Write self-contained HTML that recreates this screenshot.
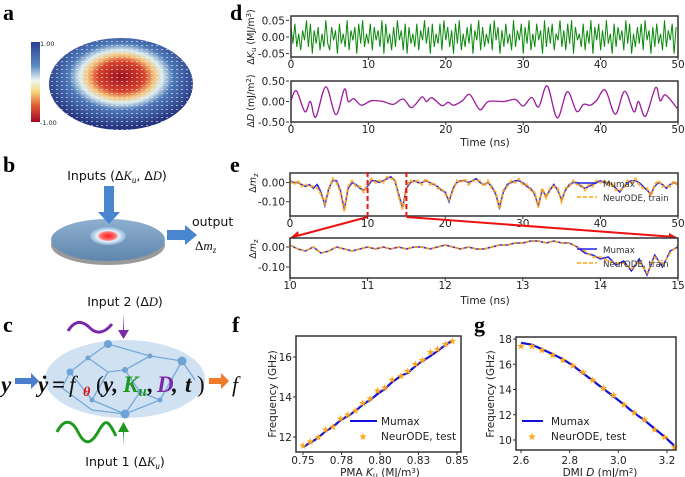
<!DOCTYPE html>
<html><head><meta charset="utf-8"><style>
html,body{margin:0;padding:0;background:#fff;}
svg{display:block;font-family:"DejaVu Sans","Liberation Sans",sans-serif;}
.tick{font-size:10.5px;fill:#222;}
.lab{font-size:9.5px;fill:#222;}
.pl{font-family:"Liberation Serif",serif;font-weight:bold;font-size:22px;fill:#000;}
.leg{font-size:8.7px;fill:#333;}
</style></head><body>
<svg id="fig" width="685" height="477" viewBox="0 0 685 477" xmlns="http://www.w3.org/2000/svg">
<defs>
<linearGradient id="cbar" x1="0" y1="0" x2="0" y2="1">
<stop offset="0" stop-color="#2c3f94"/><stop offset="0.3" stop-color="#5b8cc4"/><stop offset="0.48" stop-color="#eef6f4"/><stop offset="0.62" stop-color="#f7d77c"/><stop offset="0.8" stop-color="#e05a2f"/><stop offset="1" stop-color="#a4062a"/></linearGradient>
<radialGradient id="skyr" cx="0.5" cy="0.42" r="0.55">
<stop offset="0" stop-color="#9a0f20"/><stop offset="0.3" stop-color="#d8442c"/><stop offset="0.42" stop-color="#f4c27a"/><stop offset="0.52" stop-color="#dbeef0"/><stop offset="0.66" stop-color="#4f79b8"/><stop offset="1" stop-color="#26357f"/></radialGradient>
<pattern id="dots" width="5" height="4" patternUnits="userSpaceOnUse"><rect width="5" height="4" fill="none"/><rect x="1" y="1" width="2" height="1" fill="#fff" opacity="0.55"/></pattern>
<radialGradient id="core" cx="0.5" cy="0.5" r="0.5"><stop offset="0" stop-color="#ff1a1a"/><stop offset="0.45" stop-color="#f77"/><stop offset="0.6" stop-color="#e8f2fa"/><stop offset="0.85" stop-color="#a9cbe8"/><stop offset="1" stop-color="#8fb2d4"/></radialGradient>
<linearGradient id="disk" x1="0" y1="0" x2="0" y2="1"><stop offset="0" stop-color="#8fb0cf"/><stop offset="1" stop-color="#5f86ad"/></linearGradient>
</defs>

<!-- panel a -->
<text class="pl" x="3" y="20">a</text>
<rect x="31" y="42" width="9" height="80" fill="url(#cbar)"/>
<text x="40" y="46" font-size="6.5" fill="#222">1.00</text>
<text x="40" y="125" font-size="6.5" fill="#222">-1.00</text>
<ellipse cx="121" cy="84" rx="72" ry="46" fill="url(#skyr)"/>
<ellipse cx="121" cy="84" rx="72" ry="46" fill="url(#dots)"/>

<!-- panel b -->
<text class="pl" x="3" y="172">b</text>
<text x="117" y="180" font-size="12.5" text-anchor="middle" fill="#111">Inputs (Δ<tspan font-style="italic" font-family="Liberation Serif">K<tspan font-size="9" dy="3">u</tspan></tspan><tspan dy="-3">, Δ</tspan><tspan font-style="italic" font-family="Liberation Serif">D</tspan>)</text>
<ellipse cx="108" cy="245" rx="57" ry="20" fill="#9a9a9a"/>
<ellipse cx="108" cy="240" rx="57" ry="21" fill="url(#disk)"/>
<ellipse cx="108" cy="236" rx="18" ry="9" fill="url(#core)"/>
<path d="M104,186 h10 v26 h6 l-11,12 l-11,-12 h6 z" fill="#4a86cf"/>
<path d="M167,230 h18 v-5 l12,10 l-12,10 v-5 h-18 z" fill="#4a86cf"/>
<text x="192" y="226" font-size="12.5" fill="#111">output</text>
<text x="195" y="250" font-size="13" font-family="Liberation Serif" font-style="italic" fill="#111"><tspan font-style="normal">Δ</tspan>m<tspan font-size="9" dy="3">z</tspan></text>

<!-- panel c -->
<text class="pl" x="3" y="332">c</text>
<text x="125" y="306" font-size="12.5" text-anchor="middle" fill="#111">Input 2 (Δ<tspan font-style="italic" font-family="Liberation Serif">D</tspan>)</text>
<path d="M68,331 C76,318 84,322 90,328 S104,334 112,324" fill="none" stroke="#7a2aa8" stroke-width="3"/>
<path d="M123,312 v18 h-5 l5.5,9 l5.5,-9 h-5 z" fill="#7a2aa8"/>
<ellipse cx="125" cy="379" rx="80" ry="39" fill="#c8dcf0" opacity="0.85"/>
<g stroke="#6ea3d6" stroke-width="1.3" fill="none" opacity="0.9">
<path d="M108,344 L88,358 L70,372 L62,388 M108,344 L150,356 L182,361 L195,380 M88,358 L108,372 L125,370 L150,356 M108,372 L92,400 L125,414 L160,400 L182,361 M125,370 L140,392 L160,400 M70,372 L92,400 M140,392 L125,414 M62,388 L92,410 L125,414"/>
</g>
<g fill="#6ea3d6">
<circle cx="108" cy="344" r="4"/><circle cx="182" cy="361" r="4.5"/><circle cx="70" cy="372" r="3.5"/><circle cx="125" cy="414" r="4.5"/><circle cx="125" cy="370" r="3"/><circle cx="88" cy="358" r="2.5"/><circle cx="150" cy="356" r="2.5"/><circle cx="160" cy="400" r="2.5"/><circle cx="92" cy="400" r="2.5"/><circle cx="140" cy="392" r="2.5"/>
</g>
<text y="392" font-family="Liberation Serif" font-weight="bold" font-style="italic" font-size="23" fill="#111"><tspan x="1">y</tspan><tspan x="38">ẏ</tspan><tspan x="52" font-style="normal">=</tspan><tspan x="69" font-weight="normal">f</tspan><tspan x="83" font-size="14" dy="4" fill="#e01010">θ</tspan><tspan x="96" dy="-4" font-style="normal" font-weight="normal">(</tspan><tspan x="103">y,</tspan><tspan x="123" fill="#1e9a1e">K<tspan font-size="15" dy="4">u</tspan></tspan><tspan dy="-4" font-style="normal">,</tspan><tspan x="157" fill="#7a2aa8">D</tspan><tspan x="172">,</tspan><tspan x="185">t</tspan><tspan x="197" font-style="normal" font-weight="normal">)</tspan></text>
<path d="M15,378 h16 v-5 l8,8 l-8,8 v-5 h-16 z" fill="#4a7fd0"/>
<path d="M209,378 h12 v-5 l8,8 l-8,8 v-5 h-12 z" fill="#f07a2a"/>
<text x="232" y="392" font-family="Liberation Serif" font-style="italic" font-size="22" fill="#111">f</text>
<path d="M57,432 C64,418 72,420 78,432 S90,446 98,432 S108,420 116,436" fill="none" stroke="#1e9a1e" stroke-width="3"/>
<path d="M123,446 v-14 h-5 l5.5,-10 l5.5,10 h-5 z" fill="#1e9a1e"/>
<text x="125" y="466" font-size="12.5" text-anchor="middle" fill="#111">Input 1 (Δ<tspan font-style="italic" font-family="Liberation Serif">K<tspan font-size="9" dy="3">u</tspan></tspan><tspan dy="-3">)</tspan></text>

<text class="pl" x="230" y="20">d</text>
<text class="pl" x="230" y="172">e</text>
<text class="pl" x="232" y="332">f</text>
<text class="pl" x="474" y="332">g</text>
<g id="charts"></g>
</svg>
<script>
// ---- data ----
const dKuVals = [3,-2,4,-3,1,-4,2,-1,5,-3,4,-5,2,-2,3,-4,1,-3,5,-2,
-4,3,-1,2,-5,4,-2,1,-3,5,-4,2,-1,3,-5,4,-2,5,-3,1,
-2,4,-4,3,-1,2,-3,5,-5,4,-2,1,-4,3,-3,5,-1,2,-4,4,
-5,3,-2,1,-3,4,-4,2,-1,5,-2,3,-5,4,-3,1,-2,4,-4,5,
-1,3,-3,2,-5,4,-2,5,-4,1,-3,3,-2,4,-5,2,-1,5,-4,3,
-3,1,-2,4,-4,5,-1,3,-5,2,-3,4,-2,1,-4,5,-3,2,-1,4,
-5,3,-2,5,-4,1,-3,4,-1,2,-5,5,-3,3,-2,4,-4,1,-1,5,
-3,2,-4,4,-2,5,-5,3,-1,1,-3,4,-4,2,-2,5,-5,3,-1,4,
-4,2,-3,5,-2,1,-5,4,-3,3,-1,2,-4,5,-2,4,-5,1,-3,3,
-2,4,-4,5,-1,2,-5,3,-3,4,-2,1,-4,5,-3,2,-1,4,-5,3]; // x0.01 MJ/m3, dt=0.25ns
const dDTimes = [0,0.7,1.8,2.5,3.2,4.5,5.8,6.9,7.4,8.1,9.1,10.4,11.9,13.2,14.5,15.6,16.9,17.5,18.2,19.5,20.3,21.0,22.1,23.1,24.4,25.5,27.5,29,30,31.1,32,33.1,34.4,35.7,36.9,37.8,38.7,39.5,40.6,41.9,43.1,44.3,44.9,45.8,47.1,47.7,48.4,49.9];
const dDVals = [0.03,0.26,-0.25,0,-0.38,0.36,-0.32,0.3,0,0.07,-0.09,0.02,0,-0.07,0.06,-0.15,0.11,0,0.09,-0.1,-0.02,-0.09,0.01,0.17,-0.2,0,0,0.05,-0.11,0.1,-0.13,0.38,-0.4,0.24,-0.24,-0.07,-0.09,0.03,0.28,-0.31,0.25,-0.25,0,-0.36,0.34,0.02,0.16,-0.17];
const eTopMumax = [1,0,0,-1,-2,-1,-3,-1,-5,-12,-3,1,1,-4,-14,-3,0,-1,-3,-4,-2,1,1,0,1,2,3,1,-6,-13,-3,0,1,0,0,1,0,-1,-2,-4,-5,-10,-3,0,1,1,0,1,2,0,-1,0,-2,-6,-13,-5,-1,0,1,1,0,-2,-3,-6,-12,-4,-7,-4,-1,-4,-9,-4,-1,0,0,-2,-3,-2,-1,0,1,0,0,-1,-3,-5,-2,0,1,1,0,-2,-4,-6,-2,0,-1,-3,-1,0,-1]; // x0.01, dt=0.5
const eTopNeur = [1,-1,1,-2,-1,-2,-2,-3,-6,-11,-4,2,0,-5,-15,-2,1,-2,-2,-5,-1,2,0,1,0,3,2,2,-7,-14,-2,1,0,1,-1,2,-1,0,-3,-3,-6,-9,-4,1,0,2,-1,1,1,1,-2,1,-3,-5,-14,-4,-2,1,0,2,-1,-1,-4,-5,-13,-3,-8,-3,-2,-3,-10,-3,-2,1,-1,-1,-4,-1,-2,1,0,1,-1,0,-4,-4,-3,1,0,2,-1,-3,-3,-7,-1,1,-2,-2,-2,1,-2];
const eBotMumax = [1,-1,-2,0,-3,-2,0,-1,-2,-1,0,-1,0,-1,0,-1,0,0,-1,0,1,0,-1,0,-1,-1,0,1,1,2,2,3,3,2,3,2,2,0,-3,-4,-6,-5,-9,-7,-12,-6,-14,-4,-10,-2,0]; // x0.01, dt=0.1, from 10ns
const eBotNeur = [1,-1,-2,0,-3,-2,0,-1,-2,-1,0,-1,0,-1,0,-1,0,0,-1,0,1,0,-1,0,-1,-1,0,1,1,2,2,3,3,2,3,2,2,0,-2,-5,-5,-7,-8,-8,-11,-7,-13,-5,-9,-3,1];
const fStarX = [0.75,0.7548,0.7599,0.7647,0.7694,0.7744,0.7791,0.7841,0.7888,0.7936,0.7984,0.8031,0.8079,0.8136,0.818,0.823,0.8276,0.8328,0.8373,0.8425,0.847];
const fStarY = [11.57,11.78,12.0,12.37,12.53,12.93,13.13,13.32,13.7,13.92,14.32,14.48,14.87,15.05,15.3,15.65,15.85,16.25,16.4,16.65,16.8];
const fLineY = [11.5,11.72,11.95,12.3,12.5,12.85,13.05,13.3,13.62,13.85,14.15,14.4,14.75,15.05,15.2,15.55,15.8,16.05,16.3,16.6,16.82];
const gStarX = [2.6,2.645,2.686,2.73,2.772,2.813,2.854,2.895,2.939,2.98,3.023,3.065,3.108,3.149,3.19,3.23];
const gStarY = [17.46,17.46,17.12,16.72,16.32,15.92,15.39,14.77,14.13,13.57,12.8,12.18,11.63,10.85,10.24,9.46];
const gLineY = [17.7,17.55,17.2,16.8,16.4,15.9,15.3,14.7,14.05,13.45,12.8,12.15,11.55,10.9,10.25,9.55];
const dTicksX = [0,10,20,30,40,50];
const eBotTicksX = [10,11,12,13,14,15];
const fTicksX = [0.75,0.775,0.80,0.825,0.85];
const fTickLabels = ["0.75","0.78","0.80","0.83","0.85"];
const fTicksY = [12,14,16];
const gTicksX = [2.6,2.8,3.0,3.2];
const gTicksY = [10,12,14,16,18];

const NS="http://www.w3.org/2000/svg";
const root=document.getElementById('charts');
function mk(tag,attrs,parent){const e=document.createElementNS(NS,tag);for(const k in attrs)e.setAttribute(k,attrs[k]);(parent||root).appendChild(e);return e;}
function lin(d0,d1,r0,r1){return v=>r0+(v-d0)/(d1-d0)*(r1-r0);}
function txt(x,y,s,cls,anchor,parent){const t=mk('text',{x:x,y:y,class:cls,'text-anchor':anchor||'middle'},parent);t.textContent=s;return t;}
function box(x0,y0,x1,y1,name){const r=mk('rect',{x:x0,y:y0,width:x1-x0,height:y1-y0,fill:'none',stroke:'#333','stroke-width':1.5});

return r;}
function xticks(vals,labels,sx,yb,ylab,name){const g=mk('g',{});


vals.forEach((v,i)=>{mk('line',{x1:sx(v),x2:sx(v),y1:yb,y2:yb+3,stroke:'#333'},g);txt(sx(v),ylab,labels[i],'tick','middle',g);});}
function yticks(vals,labels,sy,xl,name){const g=mk('g',{});


vals.forEach((v,i)=>{mk('line',{x1:xl-3,x2:xl,y1:sy(v),y2:sy(v),stroke:'#333'},g);txt(xl-4,sy(v)+4,labels[i],'tick','end',g);});}
function poly(xs,ys,sx,sy,attrs,name){const p=xs.map((x,i)=>sx(x).toFixed(1)+','+sy(ys[i]).toFixed(1)).join(' ');const e=mk('polyline',Object.assign({points:p,fill:'none'},attrs));

return e;}
function smooth(xs,ys,sx,sy){const P=xs.map((x,i)=>[sx(x),sy(ys[i])]);let d='M'+P[0][0]+','+P[0][1];for(let i=0;i<P.length-1;i++){const p0=P[i-1]||P[i],p1=P[i],p2=P[i+1],p3=P[i+2]||p2;d+=' C'+(p1[0]+(p2[0]-p0[0])/6)+','+(p1[1]+(p2[1]-p0[1])/6)+' '+(p2[0]-(p3[0]-p1[0])/6)+','+(p2[1]-(p3[1]-p1[1])/6)+' '+p2[0]+','+p2[1];}return d;}
function rlabel(x,y,html,name){const t=mk('text',{x:0,y:0,class:'lab','text-anchor':'middle',transform:`translate(${x},${y}) rotate(-90)`});t.innerHTML=html;

return t;}

// ---- d top ----
let sx=lin(0,50,291,678), sy=lin(-0.06,0.06,57,17);
const kuT=dKuVals.map((v,i)=>i*0.25), kuV=dKuVals.map(v=>v*0.01);
poly(kuT,kuV,sx,sy,{stroke:'#0a8a0a','stroke-width':1},'delta-ku-series');
box(291,16,678,57,'d-top-axes');
yticks([0.05,0,-0.05],["0.05","0.00","-0.05"],sy,289,'d-top-y-ticks');
xticks(dTicksX,dTicksX.map(String),sx,57,68,'d-top-x-ticks');
rlabel(254,37,'Δ<tspan font-style="italic">K</tspan><tspan font-size="7" dy="2">u</tspan><tspan dy="-2"> (MJ/m</tspan><tspan font-size="7" dy="-3">3</tspan><tspan dy="3">)</tspan>','d-top-y-label');
// ---- d bottom ----
sy=lin(-0.5,0.5,122,81);
const dp=mk('path',{d:smooth(dDTimes,dDVals,sx,sy),fill:'none',stroke:'#9b1b9b','stroke-width':1.3});


box(291,81,678,122,'d-bottom-axes');
yticks([0.5,0,-0.5],["0.50","0.00","-0.50"],sy,289,'d-bottom-y-ticks');
xticks(dTicksX,dTicksX.map(String),sx,122,133,'d-bottom-x-ticks');
rlabel(254,101,'Δ<tspan font-style="italic">D</tspan> (mJ/m<tspan font-size="7" dy="-3">2</tspan><tspan dy="3">)</tspan>','d-bottom-y-label');
txt(485,146,'Time (ns)','tick');

// ---- e top ----
sx=lin(0,50,290,678); sy=lin(-0.18,0.05,217,173);
const etT=eTopMumax.map((v,i)=>i*0.5);
poly(etT,eTopMumax.map(v=>v*0.01),sx,sy,{stroke:'#2020ee','stroke-width':1.5},'e-top-mumax');
poly(etT.slice(0,eTopNeur.length),eTopNeur.map(v=>v*0.01),sx,sy,{stroke:'#ffa514','stroke-width':2.2,'stroke-dasharray':'4,1.5',opacity:0.85},'e-top-neurode');
box(290,173,678,216,'e-top-axes');
yticks([0,-0.1],["0.00","-0.10"],sy,289,'e-top-y-ticks');
xticks(dTicksX,dTicksX.map(String),sx,216,227,'e-top-x-ticks');
rlabel(256,183,'Δ<tspan font-style="italic">m</tspan><tspan font-size="7" dy="2">z</tspan>','e-top-y-label');
let lg=mk('g',{});

mk('line',{x1:577,x2:597,y1:183,y2:183,stroke:'#2020ee','stroke-width':1.6},lg);txt(603,187,'Mumax','leg','start',lg);
mk('line',{x1:577,x2:597,y1:197,y2:197,stroke:'#ffa514','stroke-width':1.6,'stroke-dasharray':'4,2'},lg);txt(603,201,'NeurODE, train','leg','start',lg);
// zoom markers
const zl=mk('g',{stroke:'#ee1111','stroke-width':2,fill:'none'});


mk('line',{x1:sx(10),x2:sx(10),y1:172,y2:216,'stroke-dasharray':'5,3'},zl);
mk('line',{x1:sx(15),x2:sx(15),y1:172,y2:216,'stroke-dasharray':'5,3'},zl);
mk('line',{x1:sx(10),y1:217,x2:293,y2:237},zl);mk('line',{x1:sx(15),y1:217,x2:675,y2:237},zl);
mk('path',{d:'M290,238 l8,-7 l1,5 z',fill:'#ee1111',stroke:'none'},zl);mk('path',{d:'M678,238 l-9,-5 l-0,5 z',fill:'#ee1111',stroke:'none'},zl);
// ---- e bottom ----
sx=lin(10,15,290,678); sy=lin(-0.155,0.045,278,238);
const ebT=eBotMumax.map((v,i)=>10+i*0.1);
poly(ebT,eBotMumax.map(v=>v*0.01),sx,sy,{stroke:'#2020ee','stroke-width':1.5},'e-bottom-mumax');
poly(ebT.slice(0,eBotNeur.length),eBotNeur.map(v=>v*0.01),sx,sy,{stroke:'#ffa514','stroke-width':1.8,'stroke-dasharray':'4,2',opacity:0.9},'e-bottom-neurode');
box(290,238,678,278,'e-bottom-axes');
yticks([0,-0.1],["0.00","-0.10"],sy,289,'e-bottom-y-ticks');
xticks(eBotTicksX,eBotTicksX.map(String),sx,278,289,'e-bottom-x-ticks');
rlabel(256,249,'Δ<tspan font-style="italic">m</tspan><tspan font-size="7" dy="2">z</tspan>','e-bottom-y-label');
txt(485,304,'Time (ns)','tick');
lg=mk('g',{});

mk('line',{x1:577,x2:597,y1:249,y2:249,stroke:'#2020ee','stroke-width':1.6},lg);txt(603,253,'Mumax','leg','start',lg);
mk('line',{x1:577,x2:597,y1:263,y2:263,stroke:'#ffa514','stroke-width':1.6,'stroke-dasharray':'4,2'},lg);txt(603,267,'NeurODE, train','leg','start',lg);

function stars(xs,ys,sx,sy,name){const g=mk('g',{fill:'#ffa514'});


xs.forEach((x,i)=>{const t=mk('text',{x:sx(x),y:sy(ys[i])+3.5,'font-size':10,'text-anchor':'middle'},g);t.textContent='★';});}
// ---- f ----
sx=lin(0.75,0.85,303,457); sy=lin(12,16,437,357);
poly(fStarX,fLineY,sx,sy,{stroke:'#1010d8','stroke-width':2.2},'f-mumax-line');
stars(fStarX,fStarY,sx,sy,'f-neurode-stars');
box(296,336,461,452,'f-axes');
yticks(fTicksY,fTicksY.map(String),sy,296,'f-y-ticks');
xticks(fTicksX,fTickLabels,sx,452,464,'f-x-ticks');
rlabel(276,394,'Frequency (GHz)','f-y-label').setAttribute('class','tick');
const fxl=txt(380,476,'','tick');fxl.innerHTML='PMA <tspan font-style="italic">K</tspan><tspan font-size="8" dy="2">u</tspan><tspan dy="-2"> (MJ/m</tspan><tspan font-size="7" dy="-3">3</tspan><tspan dy="3">)</tspan>';

lg=mk('g',{});

mk('line',{x1:350,x2:377,y1:421,y2:421,stroke:'#1010d8','stroke-width':2},lg);txt(381,425,'Mumax','tick','start',lg);
mk('text',{x:363,y:440,'font-size':10,'text-anchor':'middle',fill:'#ffa514'},lg).textContent='★';txt(381,440,'NeurODE, test','tick','start',lg);
// ---- g ----
sx=lin(2.6,3.2,521,667); sy=lin(10,18,440,339);
poly(gStarX,gLineY,sx,sy,{stroke:'#1010d8','stroke-width':2.2},'g-mumax-line');
stars(gStarX,gStarY,sx,sy,'g-neurode-stars');
box(516,337,676,450,'g-axes');
yticks(gTicksY,gTicksY.map(String),sy,516,'g-y-ticks');
xticks(gTicksX,gTicksX.map(v=>v.toFixed(1)),sx,450,464,'g-x-ticks');
rlabel(494,394,'Frequency (GHz)','g-y-label').setAttribute('class','tick');
const gxl=txt(600,476,'','tick');gxl.innerHTML='DMI <tspan font-style="italic">D</tspan> (mJ/m<tspan font-size="7" dy="-3">2</tspan><tspan dy="3">)</tspan>';

lg=mk('g',{});

mk('line',{x1:522,x2:543,y1:421,y2:421,stroke:'#1010d8','stroke-width':2},lg);txt(551,425,'Mumax','tick','start',lg);
mk('text',{x:532,y:440,'font-size':10,'text-anchor':'middle',fill:'#ffa514'},lg).textContent='★';txt(551,440,'NeurODE, test','tick','start',lg);
</script>
</body></html>
